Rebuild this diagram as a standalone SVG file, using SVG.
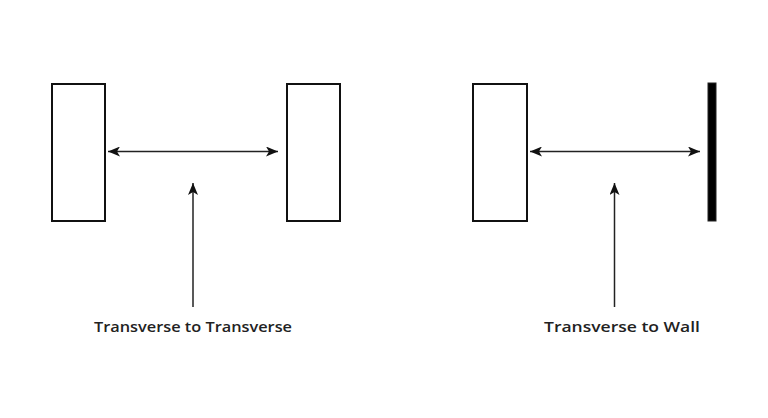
<svg xmlns="http://www.w3.org/2000/svg" width="768" height="418" viewBox="0 0 768 418">
<style>
.box{fill:#fff;stroke:#111;stroke-width:2}
.wall{fill:#000;stroke:#222;stroke-width:1}
.conn{stroke:#222;stroke-width:1.5;fill:none}
.lbl{font-family:"Open Sans","Noto Sans",sans-serif;font-weight:600;font-size:15px;fill:#222}
</style>
<defs>
<marker id="ah" viewBox="0 0 12 10" refX="12" refY="5" markerWidth="12" markerHeight="10" markerUnits="userSpaceOnUse" orient="auto-start-reverse">
<path d="M0,0 L12,5 L0,10 L3,5 Z" fill="#111"/>
</marker>
</defs>
<rect width="768" height="418" fill="#fff"/>
<g id="rect-left-1"><rect class="box" x="52" y="84" width="53" height="137"/></g>
<g id="rect-left-2"><rect class="box" x="287" y="84" width="53" height="137"/></g>
<g id="rect-right-1"><rect class="box" x="473" y="84" width="54" height="137"/></g>
<g id="wall"><rect class="wall" x="708" y="83" width="8" height="138"/></g>
<g id="connectors">
<line class="conn" x1="108" y1="151.5" x2="278" y2="151.5" marker-start="url(#ah)" marker-end="url(#ah)"/>
<line class="conn" x1="193" y1="307" x2="193" y2="183" marker-end="url(#ah)"/>
<line class="conn" x1="530" y1="151.5" x2="700" y2="151.5" marker-start="url(#ah)" marker-end="url(#ah)"/>
<line class="conn" x1="614.5" y1="307" x2="614.5" y2="183" marker-end="url(#ah)"/>
</g>
<g id="label-left"><text class="lbl" x="94" y="332" textLength="198" lengthAdjust="spacingAndGlyphs">Transverse to Transverse</text></g>
<g id="label-right"><text class="lbl" x="544" y="332" textLength="156" lengthAdjust="spacingAndGlyphs">Transverse to Wall</text></g>
</svg>
